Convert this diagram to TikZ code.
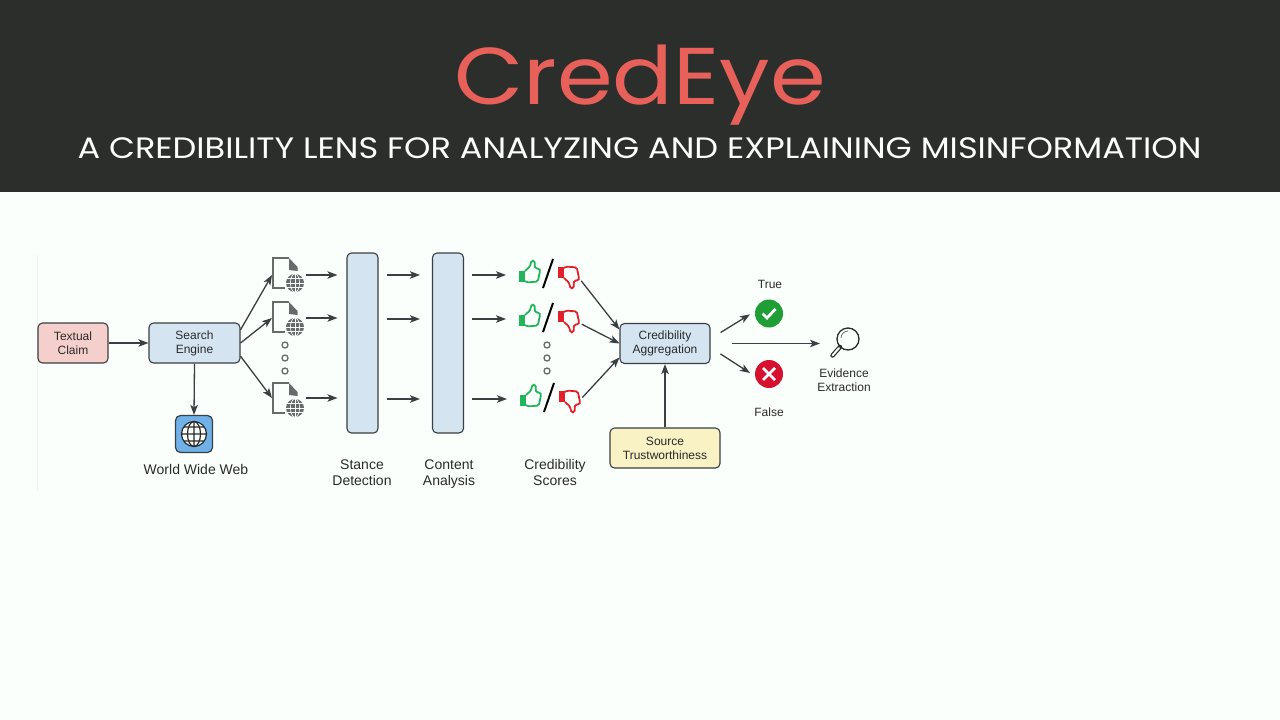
\documentclass[tikz,border=0pt]{standalone}
\usepackage{fontspec}
\setmainfont{Liberation Sans}
\newfontfamily\titlefont[FakeStretch=1.115]{Poppins}
\newfontfamily\subfont[FakeStretch=1.139]{Poppins}
\usetikzlibrary{arrows.meta}
\definecolor{pagebg}{HTML}{FBFFFC}
\definecolor{bandbg}{HTML}{2B2E2A}
\definecolor{titlered}{HTML}{E8605A}
\definecolor{ink}{HTML}{2A2A2A}
\definecolor{edge}{HTML}{3A3F42}
\definecolor{claimfill}{HTML}{F5CFCB}
\definecolor{procfill}{HTML}{D5E4F1}
\definecolor{srcfill}{HTML}{F8F2C4}
\definecolor{webblue}{HTML}{6FB1E8}
\definecolor{docgray}{HTML}{666B6B}
\definecolor{upgreen}{HTML}{22B45A}
\definecolor{downred}{HTML}{E3202A}
\definecolor{okgreen}{HTML}{1E9E35}
\definecolor{nored}{HTML}{D5112F}
\tikzset{
  x=1pt,y=-1pt,
  flowbox/.style={draw=edge,line width=1.1pt,rounded corners=4.5pt,inner sep=0pt,align=center,text=ink,font=\fontsize{12}{13.8}\selectfont},
  caption/.style={text=ink,inner sep=0pt,align=center,font=\fontsize{12}{13.8}\selectfont},
  biglabel/.style={text=ink,inner sep=0pt,align=center,font=\fontsize{14}{16}\selectfont},
  arr/.style={draw=edge,line width=1.3pt,-{Stealth[length=10pt,width=7.5pt,inset=2.5pt]}},
  slot/.style={inner sep=0pt,outer sep=0pt,draw=none,rectangle},
  dotmark/.style={circle,draw=docgray,line width=1.3pt,minimum size=6pt,inner sep=0pt,fill=pagebg},
}
\newcommand{\smallglobe}[3]{% cx cy r
  \begin{scope}[shift={(#1,#2)}]
    \fill[docgray] (0,0) circle[radius=#3];
    \draw[pagebg,line width=0.6pt] (-#3,0) -- (#3,0)
      (-8,-4.5) -- (8,-4.5) (-8,4.5) -- (8,4.5) (0,-#3) -- (0,#3);
    \draw[pagebg,line width=0.6pt] (0,0) ellipse[x radius=4.6,y radius=#3];
  \end{scope}}
\newcommand{\docicon}[2]{% x y
  \begin{scope}[shift={(#1,#2)}]
    \draw[docgray,line width=1.3pt,line join=miter] (12,30) -- (0,30) -- (0,0) -- (16,0);
    \fill[docgray] (16,0) -- (24.5,9) -- (24.5,13) -- (16,12) -- cycle;
  \end{scope}
  \smallglobe{#1+22}{#2+25}{9}}
\newcommand{\thumbshape}[1]{%
  \fill[#1] (0,11) rectangle (6,22);
  \draw[#1,line width=1.8pt,line join=round,rounded corners=1.6pt]
    (6,11) -- (11,6.5) -- (12.5,0.5) -- (15.5,0.5) -- (16,8.5) -- (20.5,8.5) -- (21,11) -- (18.8,21.5) -- (8,22.5) -- (6,21);}
\newcommand{\thumbrow}[2]{% x y of up thumb top-left
  \begin{scope}[shift={(#1,#2)}]
    \thumbshape{upgreen}
    \draw[black,line width=2pt] (24,28) -- (34,-1);
  \end{scope}
  \begin{scope}[shift={(#1+39,#2+29)},yscale=-1]
    \thumbshape{downred}
  \end{scope}}
\begin{document}
\begin{tikzpicture}
\useasboundingbox (0,0) rectangle (1280,720);
\fill[pagebg] (0,0) rectangle (1280,720);
\fill[bandbg] (0,0) rectangle (1280,192);
\node[inner sep=0pt,text=titlered] (title) at (640,85.5) {\titlefont\fontsize{80.5}{88}\selectfont CredEye};
\node[inner sep=0pt,text=white] (subtitle) at (639.5,148.5) {\subfont\fontsize{29.5}{32}\selectfont A CREDIBILITY LENS FOR ANALYZING AND EXPLAINING MISINFORMATION};
\draw[black!6,line width=0.8pt] (37.5,255) -- (37.5,490);

% boxes
\node[flowbox,fill=claimfill,minimum width=70pt,minimum height=40pt] (claim) at (73,343) {Textual\\Claim};
\node[flowbox,fill=procfill,minimum width=91pt,minimum height=40pt] (search) at (194.5,343) {Search\\Engine};
\node[flowbox,fill=procfill,minimum width=31pt,minimum height=180pt] (stance) at (362.5,343) {};
\node[flowbox,fill=procfill,minimum width=31pt,minimum height=180pt] (content) at (448,343) {};
\node[flowbox,fill=procfill,minimum width=90pt,minimum height=40pt] (agg) at (665,343.5) {Credibility\\Aggregation};
\node[flowbox,fill=srcfill,minimum width=110pt,minimum height=40pt] (src) at (665,448) {Source\\Trustworthiness};

% web icon
\node[flowbox,fill=webblue,line width=1.2pt,rounded corners=5pt,minimum width=37pt,minimum height=37pt] (www) at (194,434) {};
\fill[pagebg] (194,434) circle[radius=12.5];
\draw[ink,line width=1.2pt] (194,434) circle[radius=12.5] (181.5,434) -- (206.5,434)
  (184,427) -- (204,427) (184,441) -- (204,441) (194,421.5) -- (194,446.5);
\draw[ink,line width=1.2pt] (194,434) ellipse[x radius=6.5,y radius=12.5];
\node[biglabel] (wwwl) at (196,469) {World Wide Web};

% documents
\docicon{273}{258}
\docicon{273}{302}
\docicon{273}{383}
\node[slot,minimum width=32pt,minimum height=34pt] (d1) at (288,275) {};
\node[slot,minimum width=32pt,minimum height=34pt] (d2) at (288,318) {};
\node[slot,minimum width=32pt,minimum height=34pt] (d3) at (288,398) {};
\node[dotmark] (da) at (285,345) {};
\node[dotmark] (db) at (285,358) {};
\node[dotmark] (dc) at (285,371) {};

% thumbs
\thumbrow{519}{260}
\thumbrow{519}{304}
\thumbrow{520}{384}
\node[slot,minimum width=61pt,minimum height=30pt] (r1) at (549.5,275) {};
\node[slot,minimum width=61pt,minimum height=30pt] (r2) at (549.5,319) {};
\node[slot,minimum width=61pt,minimum height=30pt] (r3) at (550.5,399) {};
\node[dotmark] (ea) at (547,345) {};
\node[dotmark] (eb) at (547,358) {};
\node[dotmark] (ec) at (547,371) {};

% verdicts
\node[caption] (truel) at (770,284) {True};
\node[circle,fill=okgreen,minimum size=28pt,inner sep=0pt] (chk) at (769,313.5) {};
\draw[white,line width=2.8pt] (762.5,313.5) -- (767,318) -- (775.5,309);
\node[circle,fill=nored,minimum size=28pt,inner sep=0pt] (crs) at (769,374) {};
\draw[white,line width=2.8pt] (763,368) -- (775,380) (775,368) -- (763,380);
\node[caption] (falsel) at (769,412) {False};

% magnifier
\node[slot,minimum width=30pt,minimum height=30pt] (mag) at (845,343) {};
\draw[ink,line width=1.3pt] (848,339) circle[radius=11];
\draw[docgray,line width=0.8pt] (841,338) arc[start angle=180,end angle=270,radius=7];
\draw[ink,line width=4.4pt,line cap=round] (840,347) -- (832.5,355.5);
\draw[pagebg,line width=2pt,line cap=round] (839,348) -- (832.5,355.5);
\node[caption] (evid) at (844,380) {Evidence\\Extraction};

% lower captions
\node[biglabel] (stl) at (362,474) {\strut Stance\\\strut Detection};
\node[biglabel] (cal) at (449,474) {\strut Content\\\strut Analysis};
\node[biglabel] (csl) at (555,474) {\strut Credibility\\\strut Scores};

% connectors
\draw[arr] (claim.east) -- (search.west);
\draw[arr] (search.south) -- (www.north);
\draw[arr] (search.16) -- (d1.west);
\draw[arr] (search.east) -- (d2.west);
\draw[arr] (search.-16) -- (d3.west);
\foreach \d in {d1,d2,d3}
  \draw[arr,shorten <=2pt,shorten >=9pt] (\d.east) -- (\d.east -| stance.west);
\foreach \r in {r1,r2,r3}{
  \draw[arr,shorten <=8pt,shorten >=12pt] (\r.west -| stance.east) -- (\r.west -| content.west);
  \draw[arr,shorten <=8pt,shorten >=13pt] (\r.west -| content.east) -- (\r.west);}
\draw[arr,shorten <=2pt] (r1.-8) -- (agg.163);
\draw[arr,shorten <=2pt] (r2.-8) -- (agg.180);
\draw[arr,shorten <=2pt] (r3.east) -- (agg.197);
\draw[arr] (src.north) -- (agg.south);
\draw[arr,shorten <=11.8pt,shorten >=5.9pt] (agg.6) -- (chk.171);
\draw[arr,shorten <=11.8pt,shorten >=5.9pt] (agg.-5) -- (crs.189);
\draw[arr,shorten <=21pt,shorten >=10pt] (agg.east) -- (agg.east -| mag.west);
\end{tikzpicture}
\end{document}
